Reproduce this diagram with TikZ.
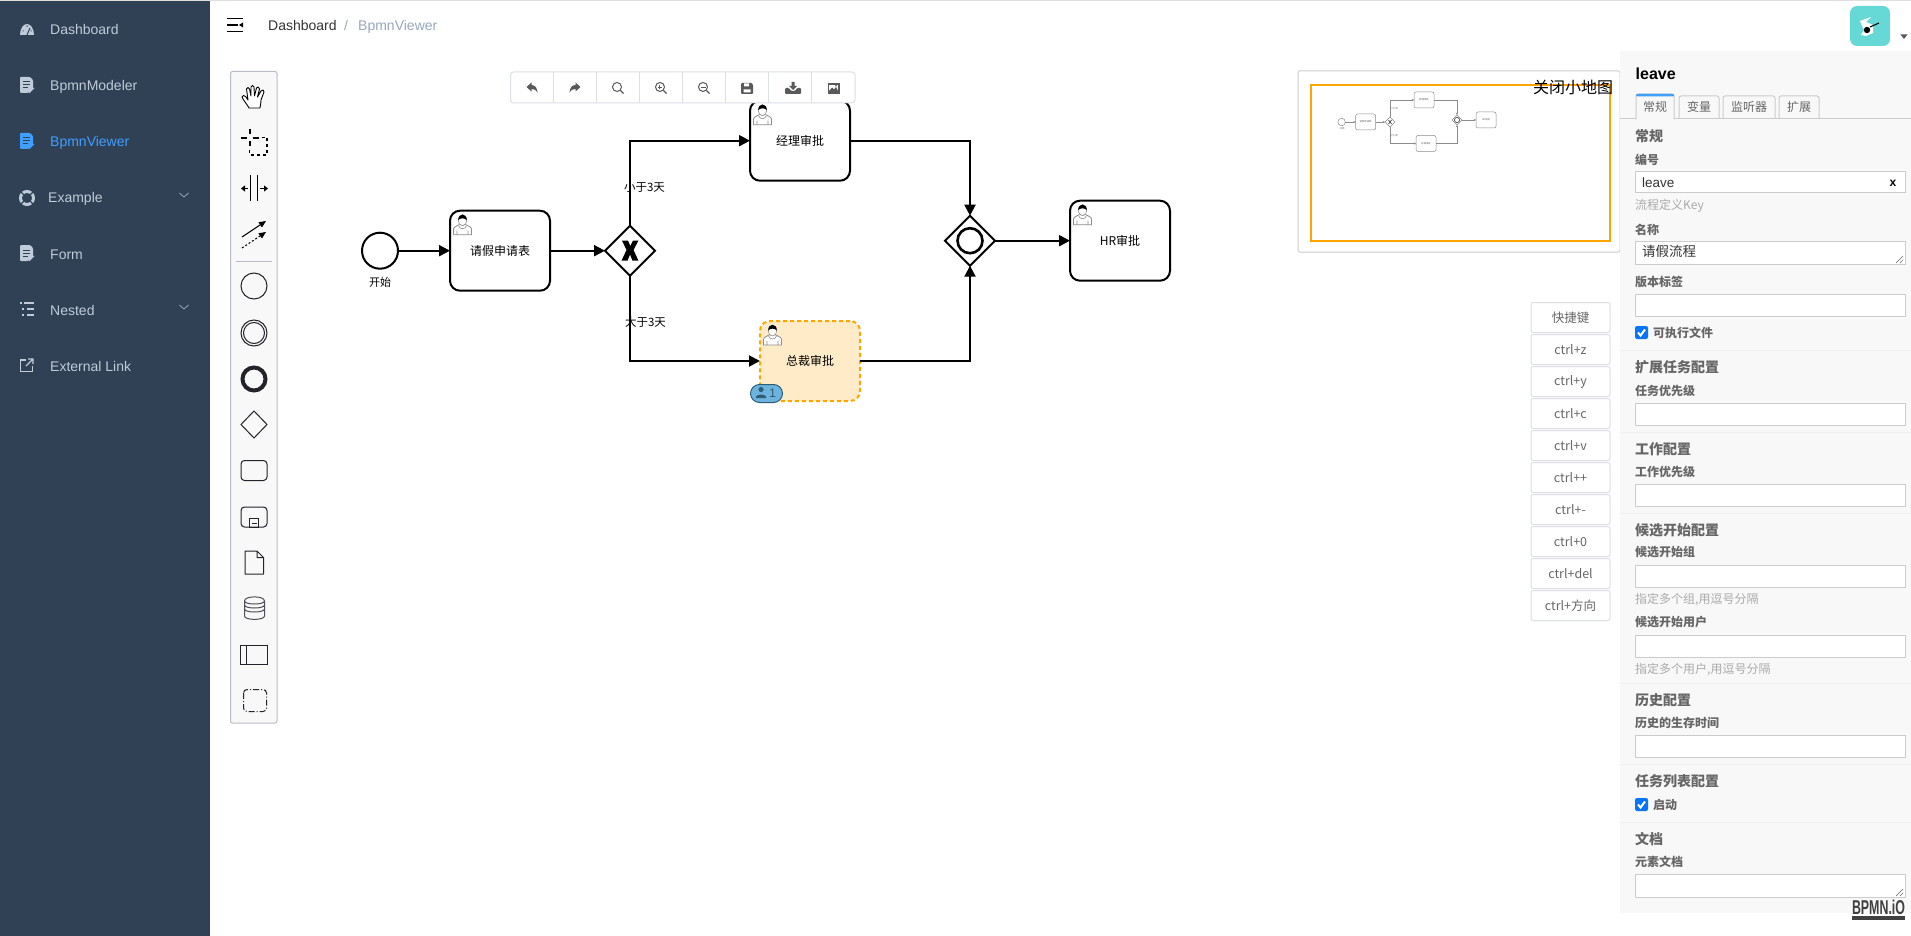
\documentclass[tikz,border=0pt]{standalone}
\usepackage{fontspec,graphicx}
\setmainfont{Liberation Sans}
\newfontfamily\cjk{Noto Sans CJK SC}
\usetikzlibrary{arrows.meta,shapes.geometric}
\definecolor{menubg}{HTML}{304156}
\definecolor{menutext}{HTML}{BFCBD9}
\definecolor{menublue}{HTML}{409EFF}
\definecolor{crumbgray}{HTML}{97A8BE}
\definecolor{framegray}{HTML}{DCDFE6}
\definecolor{palettegray}{HTML}{B9BCC6}
\definecolor{panelbg}{HTML}{F8F8F8}
\definecolor{inputgray}{HTML}{CCCCCC}
\definecolor{hintgray}{HTML}{AAAAAA}
\definecolor{labelgray}{HTML}{666666}
\definecolor{checkblue}{HTML}{0A76F6}
\definecolor{darkinkk}{HTML}{22242A}
\definecolor{orangeline}{HTML}{FFA500}
\definecolor{orangefill}{HTML}{FFEBC8}
\definecolor{badgefill}{HTML}{6CB4DD}
\definecolor{badgeline}{HTML}{2F5D78}
\definecolor{avatarteal}{HTML}{66D9D6}
\tikzset{
    bpmntask/.style={draw=black,fill=white,line width=2pt,rounded corners=10pt,minimum width=100pt,minimum height=80pt,inner sep=0pt,outer sep=0pt,align=center,font=\cjk\fontsize{12}{12}\selectfont},
    bpmngate/.style={draw=black,fill=white,line width=2pt,diamond,aspect=1,minimum width=50pt,minimum height=50pt,inner sep=0pt,outer sep=0pt},
    seqflow/.style={->,line width=2pt},
    flowtext/.style={inner sep=0pt,font=\cjk\fontsize{11.5}{12}\selectfont},
    menuitem/.style={anchor=west,inner sep=0pt,text height=10pt,text depth=0pt,text=menutext,font=\fontsize{14}{14}\selectfont},
    keycell/.style={draw=framegray,fill=white,line width=1pt,rounded corners=2pt,minimum width=79pt,minimum height=30pt,inner sep=0pt,text=labelgray,font=\cjk\fontsize{12.5}{13}\selectfont},
    panelhead/.style={anchor=west,inner sep=0pt,text=labelgray,font=\cjk\bfseries\fontsize{14}{14}\selectfont},
    panellabel/.style={anchor=west,inner sep=0pt,text=labelgray,font=\cjk\bfseries\fontsize{12}{12}\selectfont},
    panelhint/.style={anchor=west,inner sep=0pt,text=hintgray,font=\cjk\fontsize{12}{12}\selectfont},
    inputbox/.style={draw=inputgray,fill=white,line width=1pt},
    minitask/.style={draw=black!45,fill=white,line width=.5pt,rounded corners=2pt,minimum width=20pt,minimum height=16pt,inner sep=0pt,outer sep=0pt,font=\cjk\fontsize{2.4}{3}\selectfont,text=black!60},
    minigate/.style={draw=black!45,fill=white,line width=.5pt,diamond,aspect=1,minimum width=10pt,minimum height=10pt,inner sep=0pt,outer sep=0pt},
    miniflow/.style={-{Triangle[length=2pt,width=2pt]},line width=.5pt,black!45},
    usericon/.pic={
        \draw[black!45,line width=.8pt,fill=white] (3.5,24) -- (3.5,18.5) .. controls (3.5,16) and (7,15.5) .. (9,14) -- (16,14) .. controls (18,15.5) and (21.5,16) .. (21.5,18.5) -- (21.5,24) -- cycle;
        \draw[black!45,line width=.6pt] (7,24) -- (7,20) (18,24) -- (18,20) (8.5,15) .. controls (10,19) and (15,19) .. (16.5,15);
        \draw[black!45,line width=.6pt,fill=white] (12.5,9.5) ellipse[x radius=4.3,y radius=5.5];
        \fill[black] (8.2,9.5) .. controls (8.2,2) and (16.8,2) .. (16.8,9.5) .. controls (15,7) and (10,7) .. (8.2,9.5) -- cycle;
    },
    undoicon/.pic={
        \fill (-5.5,-1) -- (-.5,-5.5) -- (-.5,-3) .. controls (3,-3) and (5.5,0) .. (5.5,5) .. controls (4,1.5) and (2,1) .. (-.5,1) -- (-.5,3.5) -- cycle;
    },
    lensicon/.pic={
        \draw[line width=1pt] (-1,-1) circle[radius=4.5];
        \draw[line width=1.3pt] (2.4,2.4) -- (5.5,5.5);
    },
    docicon/.pic={
        \fill[rounded corners=1pt] (-7,-8) -- (3,-8) -- (6,-5) -- (6,4) -- (1,8) -- (-7,8) -- cycle;
        \draw[menubg,line width=1pt] (-4.5,-3) -- (3,-3) (-4.5,0) -- (3,0) (-4.5,3) -- (1,3);
        \draw[line width=1pt] (2,8) -- (7,3);
    },
    chevicon/.pic={
        \draw[line width=.8pt,opacity=.7] (-4.5,-2) -- (0,2) -- (4.5,-2);
    },
    checkicon/.pic={
        \fill[checkblue,rounded corners=2pt] (0,0) rectangle (13,13);
        \draw[white,line width=2pt] (3,6.5) -- (5.5,9.5) -- (10,3.5);
    },
    gripicon/.pic={
        \draw[black!60,line width=.5pt] (-7,0) -- (0,-7) (-3,0) -- (0,-3);
    }
}
\begin{document}
\begin{tikzpicture}[x=1pt,y=-1pt,>={Triangle[length=11pt,width=11pt]}]
    \useasboundingbox (0,0) rectangle (1911,936);
    \fill[white] (0,0) rectangle (1911,936);
    \fill[black!13] (0,0) rectangle (1911,1);
    % sidebar
    \fill[menubg] (0,1) rectangle (210,936);
    \foreach \yy/\xx/\lbl [count=\i] in {30/50/Dashboard,86/50/BpmnModeler,198/48/Example,254/50/Form,310/50/Nested,366/50/External Link}
        \node[menuitem] (menu\i) at (\xx,\yy) {\lbl};
    \node[menuitem,text=menublue] (menuviewer) at (50,142) {BpmnViewer};
    \fill[menutext] (20,35) arc[start angle=180,end angle=360,x radius=7,y radius=11] -- cycle;
    \draw[menubg,line width=1pt] (27,35) -- (30,28) (22.5,31) -- (23.5,31) (30.5,31) -- (31.5,31) (27,25.5) -- (27,27);
    \pic[color=menutext] at (27,85) {docicon};
    \pic[color=menublue] at (27,141) {docicon};
    \pic[color=menutext] at (27,253) {docicon};
    \draw[menutext,line width=3pt] (27,198) circle[radius=6.5];
    \draw[menubg,line width=1.2pt] (21,192) -- (24,195) (33,192) -- (30,195) (21,204) -- (24,201) (33,204) -- (30,201);
    \draw[menutext,line width=1.2pt] (24,303) -- (34,303) (27,309) -- (34,309) (27,315) -- (34,315);
    \draw[menutext,line width=1.2pt,dash pattern=on 1.5pt off 2pt] (20,303) -- (22,303) (22,309) -- (24,309) (22,315) -- (24,315);
    \draw[menutext,line width=1.2pt] (26,360) -- (20.5,360) -- (20.5,371.5) -- (32.5,371.5) -- (32.5,366);
    \draw[menutext,line width=1.2pt] (26,366) -- (33,359) (28,359) -- (33,359) -- (33,364);
    \pic[color=menutext] at (184,195) {chevicon};
    \pic[color=menutext] at (184,307) {chevicon};
    % top bar
    \draw[black,line width=1.3pt] (227,18.5) -- (243,18.5) (227,25) -- (238,25) (227,31.5) -- (243,31.5);
    \fill[black] (239,25) -- (243,22.5) -- (243,27.5) -- cycle;
    \node[menuitem,text=black!80] (crumbhome) at (268,26) {Dashboard};
    \node[menuitem,text=crumbgray] (crumbsep) at (344,26) {/};
    \node[menuitem,text=crumbgray] (crumbviewer) at (358,26) {BpmnViewer};
    % palette
    \draw[palettegray,fill=panelbg,line width=1pt,rounded corners=2pt] (230.5,71.5) rectangle (277,723);
    \begin{scope}[shift={(254,97)}]
        \draw[black,line width=.9pt,fill=white,line join=round] (-5,11) .. controls (-7,7) and (-11,3) .. (-12,0) .. controls (-12,-2) and (-9,-2) .. (-8,0) -- (-6,3) -- (-7.5,-8) .. controls (-7.5,-10) and (-4.5,-10) .. (-4.5,-8) -- (-3,-1) -- (-3,-10) .. controls (-3,-12) and (0,-12) .. (0,-10) -- (.5,-1) -- (2.5,-9) .. controls (3,-11) and (5.5,-10) .. (5.5,-8) -- (3.5,0) -- (7,-6) .. controls (8,-8) and (10.5,-7) .. (10,-5) -- (7,3) .. controls (7,7) and (6,9) .. (6,11) -- cycle;
    \end{scope}
    \draw[black,line width=2pt] (240.7,137.7) -- (246.5,137.7) (252.5,137.7) -- (258.7,137.7) (249.5,129) -- (249.5,134.5) (249.5,141) -- (249.5,146.5);
    \draw[black,line width=1.1pt,dash pattern=on 3pt off 3pt] (261.5,137.5) -- (267,137.5) -- (267,155) -- (249.5,155) -- (249.5,150);
    \draw[black,line width=1pt] (250,175) -- (250,201) (257.5,175) -- (257.5,201);
    \draw[black,line width=1.3pt,-{Triangle[length=4pt,width=6pt]}] (248,188.5) -- (241,188.5);
    \draw[black,line width=1.3pt,-{Triangle[length=4pt,width=6pt]}] (260,188.5) -- (268,188.5);
    \draw[black,line width=1pt,-{Triangle[length=7pt,width=6pt]}] (242,237) -- (266,221);
    \draw[black,line width=1pt,dash pattern=on 2pt off 2pt,-{Triangle[length=7pt,width=6pt]}] (242,248) -- (266,232);
    \draw[palettegray] (236,261.5) -- (272,261.5);
    \draw[darkinkk,line width=1pt] (254,286) circle[radius=13];
    \draw[darkinkk,line width=1pt] (254,333) circle[radius=13] (254,333) circle[radius=10.5];
    \draw[darkinkk,line width=4pt] (254,379) circle[radius=11.5];
    \draw[darkinkk,line width=1pt] (254,411) -- (267,424.5) -- (254,438) -- (241,424.5) -- cycle;
    \draw[darkinkk,line width=1pt,rounded corners=3.5pt] (241,460.5) rectangle (267,480.5);
    \draw[darkinkk,line width=1pt,rounded corners=3.5pt] (241,507) rectangle (267,527);
    \draw[darkinkk,line width=.8pt] (249.5,518) rectangle (258.5,527) (251.5,523) -- (256.5,523);
    \draw[darkinkk,line width=1pt,line join=round] (245,551) -- (257,551) -- (263.5,557.5) -- (263.5,574) -- (245,574) -- cycle (257,551) -- (257,557.5) -- (263.5,557.5);
    \draw[darkinkk!80,line width=1pt] (244.5,601) .. controls (244.5,595.5) and (264.5,595.5) .. (264.5,601) -- (264.5,616) .. controls (264.5,620.5) and (244.5,620.5) .. (244.5,616) -- cycle;
    \draw[darkinkk!80,line width=1pt] (244.5,601) .. controls (244.5,605) and (264.5,605) .. (264.5,601) (244.5,605) .. controls (244.5,609) and (264.5,609) .. (264.5,605) (244.5,609) .. controls (244.5,613) and (264.5,613) .. (264.5,609);
    \draw[darkinkk,line width=1pt] (240.5,645) rectangle (267.5,664.5) (246.5,645) -- (246.5,664.5);
    \draw[darkinkk,line width=1pt,rounded corners=3.5pt,dash pattern=on 6pt off 2pt on 1pt off 2pt] (243.5,689.5) rectangle (266.5,711.5);
    % diagram
    \node[draw=black,fill=white,line width=2pt,circle,minimum size=36pt,inner sep=0pt,outer sep=0pt] (startevt) at (380,250.7) {};
    \node[flowtext,font=\cjk\fontsize{11}{11}\selectfont] (starttext) at (380,282) {开始};
    \node[bpmntask] (applytask) at (500,250.7) {请假申请表};
    \node[bpmngate] (splitgate) at (630,250.7) {};
    \fill[black] (622,240.5) -- (628,240.5) -- (630.3,246) -- (633,240.5) -- (638.5,240.5) -- (633.5,250) -- (638.5,260.7) -- (632.5,260.7) -- (630,254.5) -- (627.5,260.7) -- (621.5,260.7) -- (626.5,250) -- cycle;
    \node[bpmntask] (managertask) at (800,140.7) {经理审批};
    \node[bpmntask,draw=orangeline,fill=orangefill,dash pattern=on 4pt off 3pt] (ceotask) at (810,361) {总裁审批};
    \node[bpmngate] (joingate) at (970,240.7) {};
    \draw[black,line width=2.6pt] (970,240.7) circle[radius=12.5];
    \node[bpmntask] (hrtask) at (1120,240.7) {HR审批};
    \pic at (450,210.7) {usericon};
    \pic at (750,100.7) {usericon};
    \pic at (760,321) {usericon};
    \pic at (1070,200.7) {usericon};
    \draw[seqflow] (startevt) -- (applytask);
    \draw[seqflow] (applytask) -- (splitgate);
    \draw[seqflow] (splitgate.north) |- (managertask.west);
    \draw[seqflow] (splitgate.south) |- (ceotask.west);
    \draw[seqflow] (managertask.east) -| (joingate.north);
    \draw[seqflow] (ceotask.east) -| (joingate.south);
    \draw[seqflow] (joingate) -- (hrtask);
    \node[flowtext] (lesstext) at (644.5,187) {小于3天};
    \node[flowtext] (moretext) at (645.5,322) {大于3天};
    \draw[badgeline,fill=badgefill,line width=1pt,rounded corners=9pt] (750.5,384.5) rectangle (782.5,402.5);
    \fill[badgeline] (761,389.5) circle[radius=2.6] (756,398) -- (756,396.5) .. controls (757,394) and (765,394) .. (766,396.5) -- (766,398) -- cycle;
    \node[inner sep=0pt,text=badgeline,font=\fontsize{12.5}{13}\selectfont] (badgetext) at (772.5,393.5) {1};
    % toolbar
    \draw[framegray,fill=white,line width=1pt,rounded corners=3pt] (510.5,72) rectangle (855,103);
    \foreach \xx in {553,596,639,682.5,725.5,768.5,811.5}
        \draw[framegray,line width=1pt] (\xx,72) -- (\xx,103);
    \pic[color=black!65] at (532,88) {undoicon};
    \pic[color=black!65,xscale=-1] at (575,88) {undoicon};
    \pic[color=black!65] at (618,88) {lensicon};
    \pic[color=black!65] at (661,88) {lensicon};
    \draw[black!65,line width=.9pt] (657.5,87) -- (662,87) (659.8,84.8) -- (659.8,89.2);
    \pic[color=black!65] at (704,88) {lensicon};
    \draw[black!65,line width=.9pt] (700.5,87) -- (705.5,87);
    \fill[black!65,rounded corners=1pt] (741,83) -- (752,83) -- (753,85) -- (753,94) -- (741,94) -- cycle;
    \fill[white] (744,83.5) rectangle (749,86.5) (743.5,89.5) rectangle (750.5,92.5);
    \fill[black!65,rounded corners=1pt] (785,88) -- (789,88) -- (791,91) -- (795,91) -- (797,88) -- (801,88) -- (801,94) -- (785,94) -- cycle;
    \fill[black!65] (791.5,82) rectangle (794.5,86) (789,86) -- (797,86) -- (793,90) -- cycle;
    \fill[black!65] (827.5,83) rectangle (839.5,94);
    \fill[white] (829,85) rectangle (838,91);
    \fill[black!65] (829,91) -- (832,87.5) -- (834,89.5) -- (836,87) -- (838,91) -- cycle (836,85.8) circle[radius=.9];
    % minimap
    \draw[inputgray,fill=white,line width=1pt,rounded corners=1.5pt] (1298,71) rectangle (1620,252);
    \draw[orangeline,line width=2pt] (1311,85) rectangle (1610,240.7);
    \node[inner sep=0pt,font=\cjk\fontsize{16}{16}\selectfont] (closemap) at (1573,87) {关闭小地图};
    \node[draw=black!45,fill=white,line width=.5pt,circle,minimum size=7.5pt,inner sep=0pt,outer sep=0pt] (ministart) at (1341.6,122) {};
    \node[minitask] (miniapply) at (1365.6,122) {请假申请表};
    \node[minigate] (minisplit) at (1390,122) {};
    \draw[black!70,line width=.7pt] (1388.5,120) -- (1391.5,124) (1391.5,120) -- (1388.5,124);
    \node[minitask] (minimanager) at (1424,100) {经理审批};
    \node[minitask] (miniceo) at (1426,143.5) {总裁审批};
    \node[minigate] (minijoin) at (1457,120) {};
    \draw[black!70,line width=.7pt] (1457,120) circle[radius=2.6];
    \node[minitask] (minihr) at (1486,120) {HR审批};
    \draw[miniflow] (ministart) -- (miniapply);
    \draw[miniflow] (miniapply) -- (minisplit);
    \draw[miniflow] (minisplit.north) |- (minimanager.west);
    \draw[miniflow] (minisplit.south) |- (miniceo.west);
    \draw[miniflow] (minimanager.east) -| (minijoin.north);
    \draw[miniflow] (miniceo.east) -| (minijoin.south);
    \draw[miniflow] (minijoin) -- (minihr);
    \node[inner sep=0pt,font=\cjk\fontsize{2.4}{3}\selectfont,text=black!60] (minicap) at (1342,128.5) {开始};
    \node[inner sep=0pt,font=\cjk\fontsize{2.4}{3}\selectfont,text=black!60] (miniless) at (1394,109) {小于3天};
    \node[inner sep=0pt,font=\cjk\fontsize{2.4}{3}\selectfont,text=black!60] (minimore) at (1394,136) {大于3天};
    % shortcut keys
    \foreach \lbl [count=\i from 0] in {快捷键,ctrl+z,ctrl+y,ctrl+c,ctrl+v,ctrl++,ctrl+-,ctrl+0,ctrl+del,ctrl+方向}
        \node[keycell] (key\i) at (1570.5,{317.5+32*\i}) {\lbl};
    % avatar
    \fill[avatarteal,rounded corners=7pt] (1850,6) rectangle (1890,46);
    \fill[white] (1860,21) -- (1871,17) -- (1866,22) -- (1873,25) -- (1873,33) -- (1866,36) -- (1861,35) -- (1864,30) -- (1862,26) -- cycle;
    \fill[black] (1867,30) circle[radius=3.2];
    \draw[black,line width=1.1pt] (1870,27) -- (1879,23);
    \fill[black!65] (1900.5,34.5) -- (1907.5,34.5) -- (1904,39) -- cycle;
    % properties panel
    \fill[panelbg] (1620,51) rectangle (1911,912.7);
    \node[panelhead,text=black,font=\bfseries\fontsize{16}{16}\selectfont] (procname) at (1635.5,74) {leave};
    \draw[inputgray,line width=1pt] (1620,119) -- (1911,119);
    \draw[inputgray,line width=1pt,fill=panelbg,rounded corners=2pt] (1636,119.5) -- (1636,94) -- (1674,94) -- (1674,119.5);
    \fill[menublue,rounded corners=1pt] (1636,94) rectangle (1674,96.5);
    \foreach \xa/\xb in {1679/1719,1723/1775,1779/1819}
        \draw[inputgray,line width=1pt,rounded corners=2pt] (\xa,119) -- (\xa,96) -- (\xb,96) -- (\xb,119);
    \foreach \xx/\lbl [count=\i] in {1655/常规,1699/变量,1749/监听器,1799/扩展}
        \node[inner sep=0pt,text=labelgray,font=\cjk\fontsize{12}{12}\selectfont] (tab\i) at (\xx,107) {\lbl};
    \foreach \yy in {350.5,432.5,513.5,683.5,764.5,822.5}
        \draw[black!6,line width=1pt] (1620,\yy) -- (1911,\yy);
    \foreach \yy/\lbl [count=\i] in {136/常规,367/扩展任务配置,449/工作配置,530/候选开始配置,700/历史配置,781/任务列表配置,839/文档}
        \node[panelhead] (head\i) at (1635,\yy) {\lbl};
    \foreach \yy/\lbl [count=\i] in {160/编号,229.5/名称,281.7/版本标签,391/任务优先级,472/工作优先级,552/候选开始组,622/候选开始用户,722.7/历史的生存时间,862/元素文档}
        \node[panellabel] (field\i) at (1635,\yy) {\lbl};
    \foreach \yy/\lbl [count=\i] in {206/流程定义Key,599.5/{指定多个组,用逗号分隔},669.5/{指定多个用户,用逗号分隔}}
        \node[panelhint] (hint\i) at (1635,\yy) {\lbl};
    \foreach \ya/\yb in {172/193,241.5/264.5,294.5/316.5,403.5/425.5,484/506.5,565.5/587.5,635/657.5,735.5/757.5,874.5/897.5}
        \draw[inputbox] (1635.5,\ya) rectangle (1905,\yb);
    \node[anchor=west,inner sep=0pt,font=\fontsize{13.5}{14}\selectfont,text=black!80] (idvalue) at (1642,182.5) {leave};
    \node[inner sep=0pt,font=\bfseries\fontsize{12}{12}\selectfont] (idclear) at (1893,183) {x};
    \node[anchor=west,inner sep=0pt,font=\cjk\fontsize{13.5}{14}\selectfont,text=black!80] (namevalue) at (1642,251) {请假流程};
    \pic at (1903,263) {gripicon};
    \pic at (1903,896) {gripicon};
    \pic at (1635,326) {checkicon};
    \pic at (1635,798) {checkicon};
    \node[panellabel] (execflag) at (1653,332.5) {可执行文件};
    \node[panellabel] (startflag) at (1653,804.5) {启动};
    % logo
    \node[inner sep=0pt,text=black!75,font=\bfseries\fontsize{20}{20}\selectfont] (logotext) at (1878.5,907) {\scalebox{.62}[1]{BPMN.iO}};
    \fill[black!75] (1852,916) rectangle (1905,920);
\end{tikzpicture}
\end{document}
